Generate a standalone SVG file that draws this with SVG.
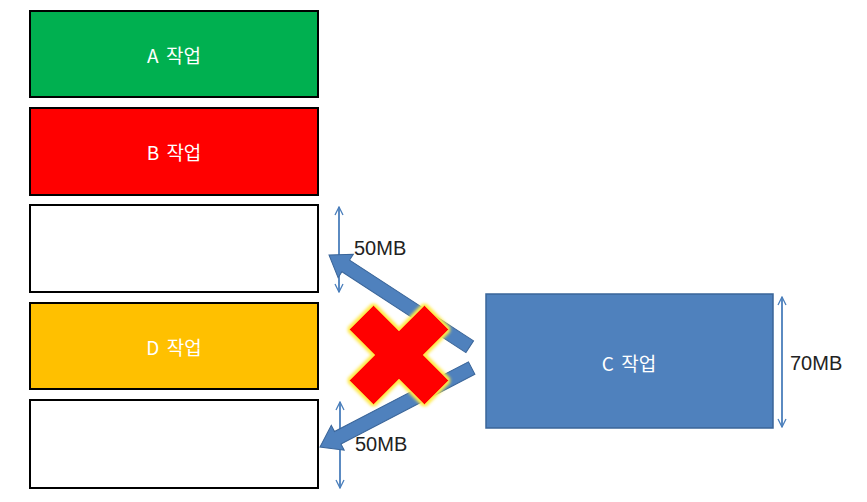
<svg xmlns="http://www.w3.org/2000/svg" width="867" height="502" viewBox="0 0 867 502">
<style>
.box{stroke:#000;stroke-width:2}
.lbl{font-family:"Noto Sans CJK KR","Liberation Sans",sans-serif;font-size:19px;fill:#fff;text-anchor:middle;dominant-baseline:central;word-spacing:3px}
.mb{font-family:"Liberation Sans","Noto Sans CJK KR",sans-serif;font-size:20px;fill:#222;dominant-baseline:central}
.dim{stroke:#4A7EBB;stroke-width:1.8;fill:none;marker-start:url(#v);marker-end:url(#v)}
.blk{fill:#4F81BD;stroke:#3A6599;stroke-width:1}
</style>
<defs>
<marker id="v" viewBox="0 0 10 10" refX="9" refY="5" markerWidth="10" markerHeight="11" markerUnits="userSpaceOnUse" orient="auto-start-reverse">
<path d="M1,1 L9,5 L1,9" fill="none" stroke="#4A7EBB" stroke-width="1.3"/>
</marker>
<filter id="glow" x="-20%" y="-20%" width="140%" height="140%">
<feMorphology in="SourceAlpha" operator="dilate" radius="2" result="d"/>
<feGaussianBlur in="d" stdDeviation="1.5" result="b"/>
<feFlood flood-color="#FFE94A"/>
<feComposite in2="b" operator="in" result="g"/>
<feMerge><feMergeNode in="g"/><feMergeNode in="SourceGraphic"/></feMerge>
</filter>
</defs>
<rect width="867" height="502" fill="#fff"/>
<g id="nodeA"><rect class="box" x="30" y="11" width="288" height="86" fill="#00B050"/><text class="lbl" x="174" y="54">A 작업</text></g>
<g id="nodeB"><rect class="box" x="30" y="108" width="288" height="87" fill="#FF0000"/><text class="lbl" x="174" y="151">B 작업</text></g>
<g id="free1"><rect class="box" x="30" y="205" width="288" height="87" fill="#fff"/></g>
<g id="nodeD"><rect class="box" x="30" y="303" width="288" height="86" fill="#FFC000"/><text class="lbl" x="174" y="346">D 작업</text></g>
<g id="free2"><rect class="box" x="30" y="400" width="288" height="88" fill="#fff"/></g>
<g id="nodeC"><rect x="486" y="294" width="287" height="134" fill="#4F81BD" stroke="#3A6599" stroke-width="1.5"/><text class="lbl" x="629" y="362">C 작업</text></g>
<g id="connectors">
<line class="dim" x1="339" y1="207" x2="339" y2="292"/>
<line class="dim" x1="340" y1="402" x2="340" y2="488"/>
<line class="dim" x1="782" y1="297" x2="782" y2="427"/>
<polygon class="blk" transform="translate(329,255) rotate(33.1)" points="0,0 20,-14 20,-7 168,-7 168,7 20,7 20,14"/>
<polygon class="blk" transform="translate(320,447) rotate(-27.5)" points="0,0 20,-14 20,-7 171,-7 171,7 20,7 20,14"/>
</g>
<g id="cross" filter="url(#glow)">
<polygon transform="translate(399,355) rotate(45)" fill="#FF0000" points="-17,-53 17,-53 17,-17 53,-17 53,17 17,17 17,53 -17,53 -17,17 -53,17 -53,-17 -17,-17"/>
</g>
<text class="mb" x="354" y="248">50MB</text>
<text class="mb" x="355" y="444">50MB</text>
<text class="mb" x="790" y="363">70MB</text>
</svg>
